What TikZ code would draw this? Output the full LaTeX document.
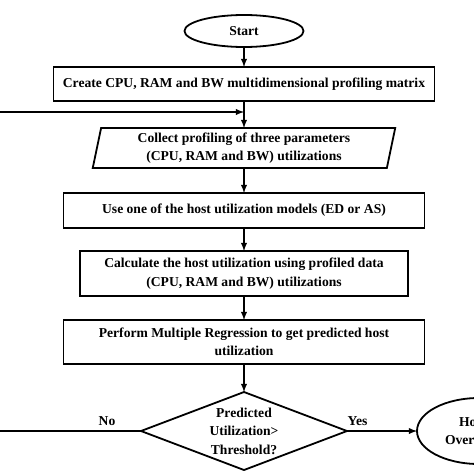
\documentclass[tikz,border=0pt]{standalone}
\usepackage{fontspec}
\setmainfont{Liberation Serif}
\usepackage{tikz}
\tikzset{
    terminal/.style={ellipse,draw=black,align=center,inner ysep=1pt,outer sep=0pt,font=\fontsize{13.6}{18.5}\selectfont\bfseries},
    process/.style={rectangle,draw=black,align=center,inner ysep=1pt,outer sep=0pt,font=\fontsize{13.6}{18.5}\selectfont\bfseries},
    data/.style={trapezium,trapezium left angle=79,trapezium right angle=101,trapezium stretches=true,draw=black,align=center,inner ysep=1pt,outer sep=0pt,font=\fontsize{13.6}{18.5}\selectfont\bfseries},
    decision/.style={diamond,draw=black,inner sep=0pt,outer sep=0pt},
    answer/.style={font=\fontsize{13.6}{18.5}\selectfont\bfseries},
}
\usetikzlibrary{shapes}
\usetikzlibrary{positioning}

\begin{document}
\begin{tikzpicture}[>=latex,x=1pt,y=-1pt,line width=1.8pt]
\useasboundingbox (0,0) rectangle (474,474);
\clip (0,0) rectangle (474,474);
\node[terminal,minimum width=119pt,minimum height=32pt] (Start) at (244,31) {Start};
\node[process,minimum width=381pt,minimum height=34pt] (Matrix) [below=20pt of Start] {Create CPU, RAM and BW multidimensional profiling matrix} edge [<-] (Start);
\node[data,minimum width=303pt,minimum height=40pt] (Collect) [below=27pt of Matrix] {Collect profiling of three parameters\\(CPU, RAM and BW) utilizations} edge [<-] (Matrix);
\node[process,minimum width=361pt,minimum height=35pt] (Model) [below=25pt of Collect] {Use one of the host utilization models (ED or AS)} edge [<-] (Collect);
\node[process,minimum width=328pt,minimum height=45pt] (Calc) [below=23pt of Model] {Calculate the host utilization using profiled data\\(CPU, RAM and BW) utilizations} edge [<-] (Model);
\node[process,minimum width=361pt,minimum height=44pt] (Regress) [below=24pt of Calc] {Perform Multiple Regression to get predicted host\\utilization} edge [<-] (Calc);
\node[decision,minimum width=206pt,minimum height=78pt] (Check) [below=28pt of Regress] {} edge [<-] (Regress);
\node[answer,align=center] (CheckText) at (Check) {Predicted\\Utilization>\\Threshold?};
\node[terminal,minimum width=124pt,minimum height=66pt] (Host) [right=70pt of Check] {Host is\\Overloaded};
\coordinate (Join) at ([yshift=-11pt]Matrix.south);
\draw[->] (Check.west) -- node[answer,pos=0.2,above=1pt] (No) {No} ++(-170,0) |- (Join);
\draw[->] (Check.east) -- node[answer,pos=0.15,above=1pt] (Yes) {Yes} (Host.west);
\end{tikzpicture}
\end{document}
